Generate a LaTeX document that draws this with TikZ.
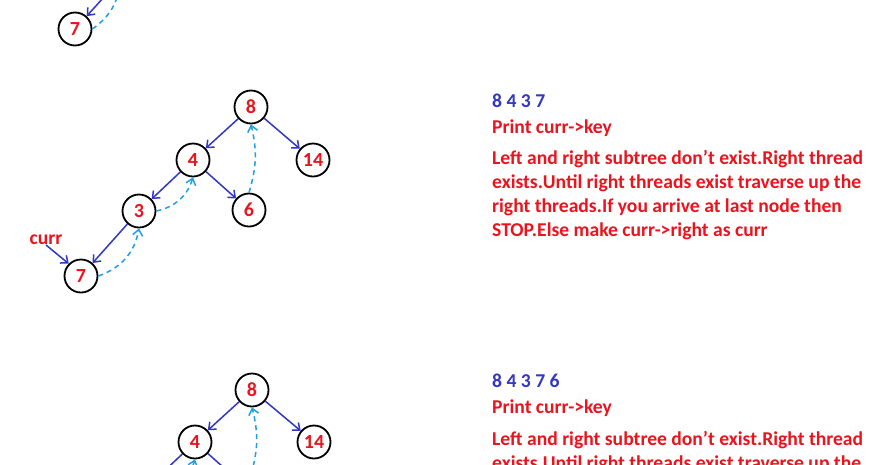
\documentclass[tikz,border=0pt]{standalone}
\usepackage{fontspec}
\setmainfont{Carlito}
\usetikzlibrary{arrows.meta}
\definecolor{ered}{RGB}{235,20,30}
\definecolor{eblue}{RGB}{50,55,195}
\definecolor{ecyan}{RGB}{30,160,230}
\begin{document}
\begin{tikzpicture}[x=1pt,y=-1pt,
  nd/.style={circle,draw,line width=1.8pt,minimum size=33pt,inner sep=0pt,font=\fontsize{20}{20}\selectfont\bfseries,text=ered},
  ed/.style={eblue,line width=1.5pt,-{Straight Barb[length=6pt,width=10pt]}},
  th/.style={ecyan,line width=1.5pt,dash pattern=on 5pt off 4pt,-{Straight Barb[length=6pt,width=10pt]}},
  tx/.style={anchor=north west,inner sep=0pt,font=\fontsize{19.6}{24}\selectfont\bfseries,text=ered,align=left}]
\clip (0,0) rectangle (885,464);
\fill[white] (0,0) rectangle (885,464);
% top partial tree
\node[nd] (t7) at (75,29) {7};
\coordinate (t3) at (133,-35);
\draw[ed] (t3) -- (t7);
\draw[th] (t7.east) to[bend right=25] (120,-20);
% middle tree
\node[nd] (a8) at (251,107) {8};
\node[nd] (a4) at (193,160) {4};
\node[nd] (a14) at (313,160) {14};
\node[nd] (a3) at (139,211) {3};
\node[nd] (a6) at (249,210) {6};
\node[nd] (a7) at (81,276) {7};
\draw[ed] (a8) -- (a4);
\draw[ed] (a8) -- (a14);
\draw[ed] (a4) -- (a3);
\draw[ed] (a4) -- (a6);
\draw[ed] (a3) -- (a7);
\draw[th] (a7.east) to[bend right=30] (a3.south);
\draw[th] (a3.east) to[bend right=30] (a4.south);
\draw[th] (a6.north) to[bend right=15] (a8.south);
\node[tx,anchor=south] (cl) at (46,245) {curr};
\draw[ed] (cl.south) -- (a7.north west);
\node[tx,text=eblue,anchor=west] at (492,101) {8 4 3 7};
\node[tx,anchor=west] at (492,128) {Print curr->key};
\node[tx] at (492,150) {Left and right subtree don't exist.Right thread\\exists.Until right threads exist traverse up the\\right threads.If you arrive at last node then\\STOP.Else make curr->right as curr};
% bottom tree
\node[nd] (b8) at (252,390) {8};
\node[nd] (b4) at (195,442) {4};
\node[nd] (b14) at (314,442) {14};
\node[nd] (b3) at (141,493) {3};
\node[nd] (b6) at (251,492) {6};
\draw[ed] (b8) -- (b4);
\draw[ed] (b8) -- (b14);
\draw[ed] (b4) -- (b3);
\draw[ed] (b4) -- (b6);
\draw[th] (b3.east) to[bend right=30] (b4.south);
\draw[th] (b6.north) to[bend right=15] (b8.south);
\node[tx,text=eblue,anchor=west] at (492,381) {8 4 3 7 6};
\node[tx,anchor=west] at (492,408) {Print curr->key};
\node[tx] at (492,431) {Left and right subtree don't exist.Right thread\\exists.Until right threads exist traverse up the};
\end{tikzpicture}
\end{document}
